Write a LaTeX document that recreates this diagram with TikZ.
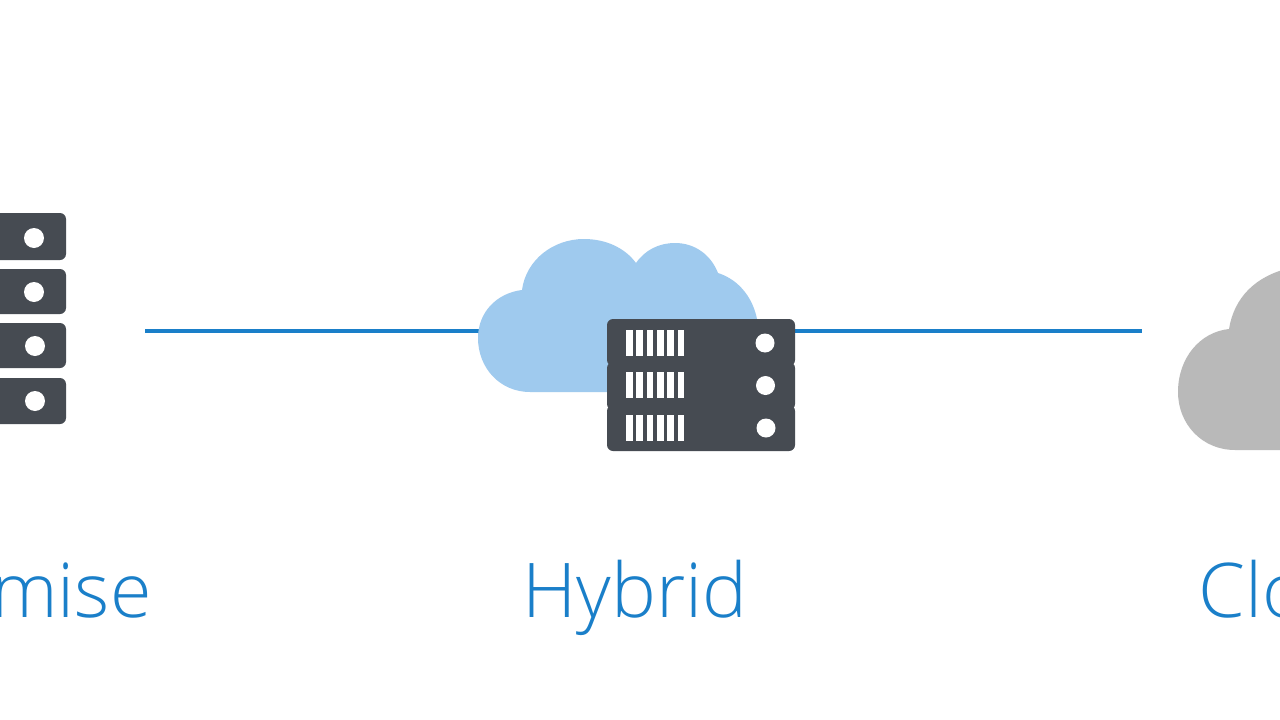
\documentclass[tikz,border=0pt]{standalone}
\usepackage{fontspec}
\setmainfont{Open Sans Light}
\definecolor{linkblue}{HTML}{1A7FC9}
\definecolor{cloudblue}{HTML}{9FCAEE}
\definecolor{cloudgray}{HTML}{B9B9B9}
\definecolor{slate}{HTML}{464B52}
\tikzset{
  link/.style={draw=linkblue,line width=3.2pt},
  rack/.style={fill=slate,rounded corners=6pt},
  vent/.style={fill=white},
  dot/.style={fill=white},
  lab/.style={text=linkblue,font=\fontsize{75.5}{90}\selectfont,inner sep=0pt,anchor=base west}
}
\begin{document}
\begin{tikzpicture}[x=1pt,y=-1pt]
\useasboundingbox (0,0) rectangle (1280,720);
\clip (0,0) rectangle (1280,720);
\fill[white] (0,0) rectangle (1280,720);
% connectors
\coordinate (la) at (145,331);
\coordinate (lb) at (500,331);
\coordinate (ra) at (780,331);
\coordinate (rb) at (1142,331);
\draw[link] (la) -- (lb);
\draw[link] (ra) -- (rb);
% hybrid cloud
\fill[cloudblue] (530,392)
  .. controls (500,392) and (478,368) .. (478,338)
  .. controls (478,312) and (497,293) .. (522,290)
  .. controls (526,260) and (553,239) .. (584,239)
  .. controls (606,239) and (625,248) .. (636,263)
  .. controls (645,250) and (659,243) .. (675,243)
  .. controls (695,243) and (711,255) .. (718,273)
  .. controls (740,280) and (755,300) .. (758,325)
  -- (640,392) -- cycle;
% hybrid server
\fill[rack] (607,319) rectangle (795,366);
\fill[rack] (607,362) rectangle (795,410);
\fill[rack] (607,405) rectangle (795,451);
\foreach \y in {330,372,415}
  \foreach \x in {626,636.3,646.6,656.9,667.2,677.5}
    \fill[vent] (\x,\y) rectangle (\x+6.8,\y+26);
\fill[dot] (765,343) circle[radius=9.5];
\fill[dot] (765.5,385.5) circle[radius=9.5];
\fill[dot] (766,428) circle[radius=9.5];
% left servers
\fill[rack] (-20,213) rectangle (66,260);
\fill[rack] (-20,269) rectangle (66,314);
\fill[rack] (-20,323) rectangle (66,368);
\fill[rack] (-20,378) rectangle (66,424);
\fill[dot] (34,238) circle[radius=10];
\fill[dot] (34,292) circle[radius=10];
\fill[dot] (35,346) circle[radius=10];
\fill[dot] (35,401) circle[radius=10];
% gray cloud
\fill[cloudgray] (1300,450) -- (1235,450)
  .. controls (1202,450) and (1178,424) .. (1178,392)
  .. controls (1178,358) and (1200,332) .. (1229,329)
  .. controls (1234,298) and (1255,276) .. (1290,268)
  -- (1300,268) -- cycle;
% labels
\node[lab] (mise) at (-9,617) {mise};
\node[lab] (hybrid) at (522,617) {Hybrid};
\node[lab] (cloud) at (1198,617) {Clo};
\end{tikzpicture}
\end{document}
